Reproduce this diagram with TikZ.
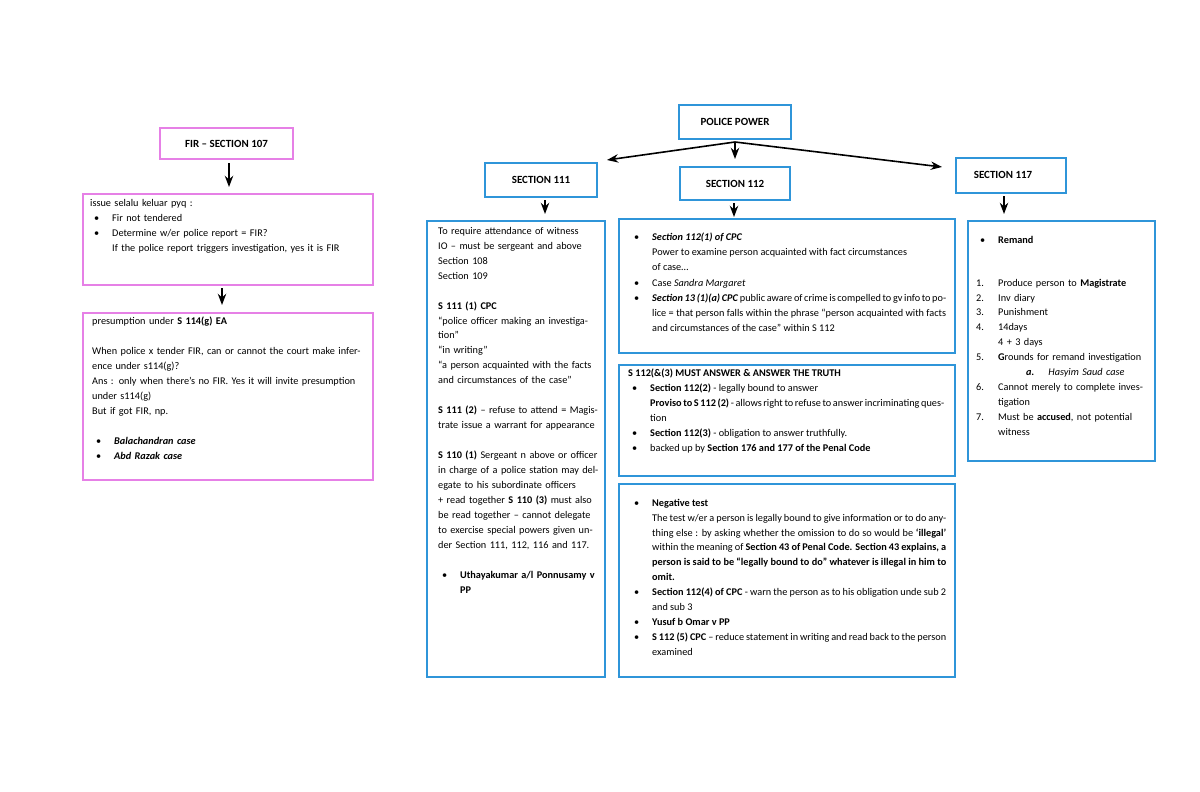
\documentclass[tikz,border=0pt]{standalone}
\usepackage{fontspec}
\setmainfont{Carlito}
\usetikzlibrary{arrows.meta}
\usetikzlibrary{positioning}
\newcommand{\bul}[1]{\par\noindent\hangindent=22bp\hangafter=1\makebox[22bp][l]{\hspace{4bp}\textbullet}#1}
\newcommand{\num}[2]{\par\noindent\hangindent=22bp\hangafter=1\makebox[22bp][l]{#1}#2}
\newcommand{\cont}[1]{\par\noindent\hspace{22bp}#1}
\begin{document}
\begin{tikzpicture}[x=1bp,y=-1bp,
    pinkbox/.style={draw=violet!40!magenta!50, line width=2.2bp},
    bluebox/.style={draw=cyan!70!blue!85, line width=2.6bp},
    txt/.style={anchor=north west, inner sep=0pt, font=\fontsize{10.3}{15}\selectfont},
    head/.style={font=\fontsize{11}{13}\selectfont\bfseries},
    arrowtip/.style={-{Stealth[scale=1.1]}, line width=1.6bp}
  ]
    \useasboundingbox (0,0) rectangle (1200,792);

    % left column
    \draw[pinkbox] (160,128) rectangle (293,159);
    \node[head] (firt) at (226.5,143.5) {FIR -- SECTION 107};
    \coordinate (firtb) at (229,163);
    \draw[pinkbox] (83,194) rectangle (373,285);
    \coordinate (firat) at (229,187);
    \coordinate (firab) at (222,288);
    \node[txt, text width=275bp, align=left] (fira) at (90,199) {%
      issue selalu keluar pyq :
      \bul{Fir not tendered}
      \bul{Determine w/er police report = FIR?}
      \cont{If the police report triggers investigation, yes it is FIR}\par};
    \draw[pinkbox] (83,313) rectangle (373,480);
    \coordinate (firbt) at (222,305);
    \node[txt, text width=275bp, align=left] (firb) at (92,317) {%
      presumption under \textbf{S 114(g) EA}\par\vspace{15bp}
      When police x tender FIR, can or cannot the court make inference under s114(g)?\par
      Ans : only when there's no FIR. Yes it will invite presumption under s114(g)\par
      But if got FIR, np.\par\vspace{15bp}
      \bul{\textbf{\textit{Balachandran case}}}
      \bul{\textbf{\textit{Abd Razak case}}}\par};

    % police power
    \draw[bluebox] (679,105) rectangle (791,139);
    \node[head] (pp) at (735,122) {POLICE POWER};
    \coordinate (ppb) at (735,142);
    \draw[bluebox] (485,163) rectangle (597,197);
    \node[head] (s111) at (541,180) {SECTION 111};
    \draw[bluebox] (680,167) rectangle (790,200);
    \node[head] (s112) at (735,183.5) {SECTION 112};
    \draw[bluebox] (956,158) rectangle (1066,193);
    \node[head] (s117) at (1003,175) {SECTION 117};

    \draw[arrowtip] (ppb) -- (607,160);
    \draw[arrowtip] (ppb) -- (735,159);
    \draw[arrowtip] (ppb) -- (942,167);
    \draw[arrowtip] (firtb) -- (firat);
    \draw[arrowtip] (firab) -- (firbt);
    \draw[arrowtip] (545,200) -- (545,214);
    \draw[arrowtip] (734,203) -- (734,217);
    \draw[arrowtip] (1004,196) -- (1004,214);

    % section 111
    \draw[bluebox] (427,221) rectangle (605,677);
    \node[txt, text width=162bp, align=left] (b111) at (438,227) {%
      To require attendance of witness\par
      IO -- must be sergeant and above\par
      Section 108\par Section 109\par\vspace{15bp}
      \textbf{S 111 (1) CPC}\par
      ``police officer making an investigation''\par
      ``in writing''\par
      ``a person acquainted with the facts and circumstances of the case''\par\vspace{15bp}
      \textbf{S 111 (2)} -- refuse to attend = Magistrate issue a warrant for appearance\par\vspace{15bp}
      \textbf{S 110 (1)} Sergeant n above or officer in charge of a police station may delegate to his subordinate officers\par
      + read together \textbf{S 110 (3)} must also be read together -- cannot delegate to exercise special powers given under Section 111, 112, 116 and 117.\par\vspace{15bp}
      \bul{\textbf{Uthayakumar a/l Ponnusamy v PP}}\par};

    % section 112
    \draw[bluebox] (619,219) rectangle (955,353);
    \node[txt, text width=316bp, align=justify] (b112a) at (630,225) {%
      \bul{\textbf{\textit{Section 112(1) of CPC}}}
      \cont{Power to examine person acquainted with fact circumstances}
      \cont{of case\dots}\vspace{2bp}
      \bul{Case \textit{Sandra Margaret}}
      \bul{\textbf{\textit{Section 13 (1)(a) CPC}} public aware of crime is compelled to gv info to police = that person falls within the phrase ``person acquainted with facts and circumstances of the case'' within S 112}\par};
    \draw[bluebox] (619,365) rectangle (955,476);
    \node[txt, text width=316bp, align=justify] (b112b) at (628,369) {%
      \textbf{S 112(\&(3) MUST ANSWER \& ANSWER THE TRUTH}
      \bul{\textbf{Section 112(2)} - legally bound to answer}
      \par\noindent\hangindent=22bp\hangafter=0 \textbf{Proviso to S 112 (2)} - allows right to refuse to answer incriminating question
      \bul{\textbf{Section 112(3)} - obligation to answer truthfully.}
      \bul{backed up by \textbf{Section 176 and 177 of the Penal Code}}\par};
    \draw[bluebox] (619,484) rectangle (955,677);
    \node[txt, text width=316bp, align=justify] (b112c) at (630,491) {%
      \bul{\textbf{Negative test}}
      \par\noindent\hangindent=22bp\hangafter=0 The test w/er a person is legally bound to give information or to do anything else : by asking whether the omission to do so would be \textbf{`illegal'} within the meaning of \textbf{Section 43 of Penal Code. Section 43 explains, a person is said to be ``legally bound to do'' whatever is illegal in him to omit.}
      \bul{\textbf{Section 112(4) of CPC} - warn the person as to his obligation unde sub 2 and sub 3}
      \bul{\textbf{Yusuf b Omar v PP}}
      \bul{\textbf{S 112 (5) CPC} -- reduce statement in writing and read back to the person examined}\par};

    % section 117
    \draw[bluebox] (968,221) rectangle (1155,461);
    \node[txt, text width=172bp, align=left] (b117) at (976,228) {%
      \bul{\textbf{Remand}}\par\vspace{28bp}
      \num{1.}{Produce person to \textbf{Magistrate}}
      \num{2.}{Inv diary}
      \num{3.}{Punishment}
      \num{4.}{14days}
      \cont{4 + 3 days}
      \num{5.}{\textbf{G}rounds for remand investigation}
      \par\noindent\hspace{50bp}\textbf{\textit{a.}}\hspace{14bp}\textit{Hasyim Saud case}
      \num{6.}{Cannot merely to complete investigation}
      \num{7.}{Must be \textbf{accused}, not potential witness}\par};
\end{tikzpicture}
\end{document}
